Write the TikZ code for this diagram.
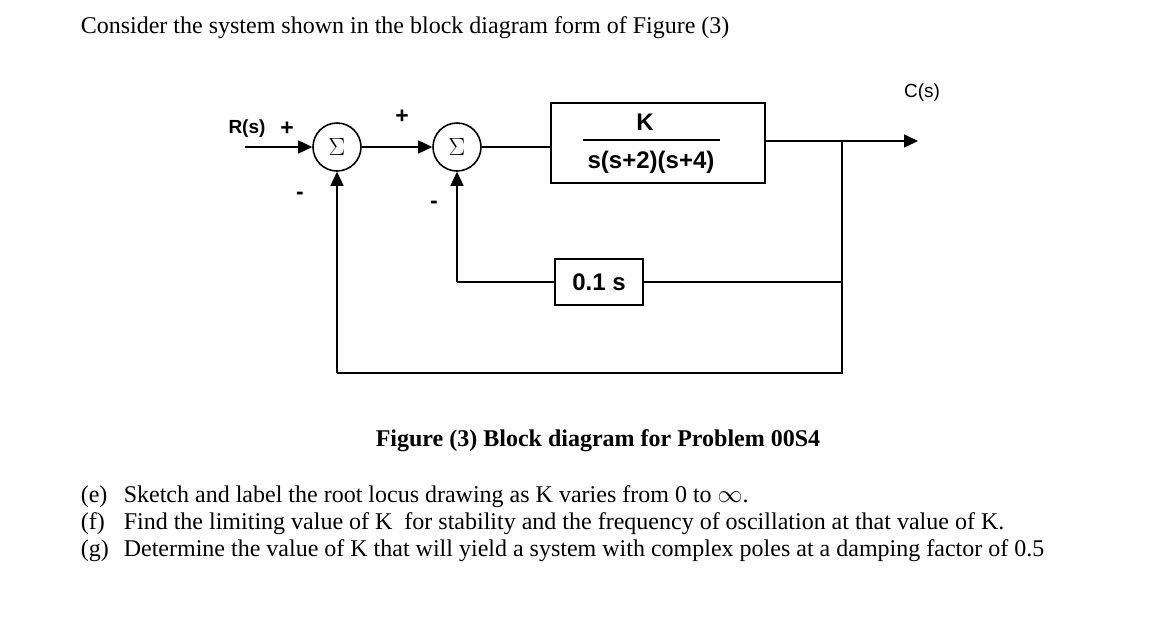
\documentclass[tikz,border=0pt]{standalone}
\usepackage{fontspec}
\setmainfont{Liberation Serif}
\newfontfamily\diag{Liberation Sans}
\usetikzlibrary{arrows.meta}
\begin{document}
\begin{tikzpicture}[x=1pt,y=-1pt,
  line width=1.6pt,
  tip/.style={-{Triangle[length=14pt,width=13pt]}},
  sum/.style={circle,draw,minimum size=48pt,inner sep=0pt,font=\fontsize{25}{28}\selectfont},
  blk/.style={draw,inner sep=0pt},
  lab/.style={font=\diag\fontsize{19}{22}\selectfont\bfseries},
  sgn/.style={font=\diag\fontsize{23}{26}\selectfont\bfseries},
  big/.style={font=\diag\fontsize{24}{28}\selectfont\bfseries},
  txt/.style={anchor=west,inner sep=0pt,font=\fontsize{24}{28}\selectfont}]
\useasboundingbox (0,0) rectangle (1176,630);
\node[txt] (title) at (80,28) {Consider the system shown in the block diagram form of Figure (3)};
\node[sum] (s1) at (337,147) {$\Sigma$};
\node[sum] (s2) at (457,147) {$\Sigma$};
\node[blk,minimum width=214pt,minimum height=80pt] (g) at (658,143) {};
\node[big] (k) at (645,122) {K};
\node[big] (den) at (651,162) {s(s+2)(s+4)};
\draw[line width=1.3pt] (583,140) -- (720,140);
\node[blk,minimum width=88pt,minimum height=46pt,big] (h) at (599,282) {0.1 s};
\coordinate (in) at (245,147);
\coordinate (out) at (918,141);
\coordinate (br) at (842,141);
\coordinate (bh) at (842,282);
\coordinate (bb) at (842,373);
\coordinate (bl) at (337,373);
\coordinate (hl) at (457,282);
\draw[tip] (in) -- (s1);
\draw[tip] (s1) -- (s2);
\draw (s2) -- (g.west|-s2);
\draw[tip] (g.east|-br) -- (out);
\draw (br) -- (bb) -- (bl);
\draw[tip] (bl) -- (s1);
\draw (bh) -- (h.east);
\draw (h.west) -- (hl);
\draw[tip] (hl) -- (s2);
\node[lab] (r) at (247,129) {R(s)};
\node[sgn] (p1) at (287,129) {+};
\node[sgn] (p2) at (402,117) {+};
\node[sgn] (m1) at (300,196) {-};
\node[sgn] (m2) at (434,205) {-};
\node[lab,font=\diag\fontsize{19}{22}\selectfont] (c) at (922,93) {C(s)};
\node[font=\fontsize{24}{28}\selectfont\bfseries] (cap) at (598,441) {Figure (3) Block diagram for Problem 00S4};
\node[txt] (e) at (80,497) {(e)};
\node[txt] (et) at (123,497) {Sketch and label the root locus drawing as K varies from 0 to $\infty$.};
\node[txt] (f) at (80,524) {(f)};
\node[txt] (ft) at (123,524) {Find the limiting value of K\ \ for stability and the frequency of oscillation at that value of K.};
\node[txt] (gg) at (80,551) {(g)};
\node[txt] (gt) at (123,551) {Determine the value of K that will yield a system with complex poles at a damping factor of 0.5};
\end{tikzpicture}
\end{document}
